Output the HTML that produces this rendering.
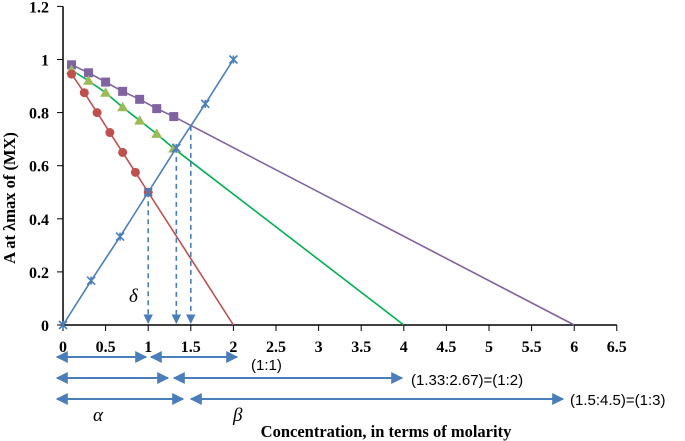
<!DOCTYPE html>
<html><head><meta charset="utf-8"><style>
body{margin:0;background:#fff}
svg{display:block;font-family:"Liberation Serif",serif}
</style></head><body>
<svg id="c" width="685" height="441" viewBox="0 0 685 441">
<defs>
<marker id="ah" viewBox="0 0 10 10" refX="9" refY="5" markerWidth="6" markerHeight="6" orient="auto-start-reverse"><path d="M0,0L10,5L0,10z" fill="#4a7ebb"/></marker>
</defs>
<g id="plot"></g>
</svg>
<script>
const xTicks=[0,0.5,1,1.5,2,2.5,3,3.5,4,4.5,5,5.5,6,6.5];
const yTicks=[0,0.2,0.4,0.6,0.8,1,1.2];
const redX=[0.1,0.25,0.4,0.55,0.7,0.85,1.0];
const redY=[0.945,0.875,0.8,0.725,0.65,0.575,0.5];
const redEnd=[2,0];
const greenX=[0.1,0.3,0.5,0.7,0.9,1.1,1.3];
const greenY=[0.96,0.92,0.875,0.82,0.77,0.72,0.665];
const greenEnd=[4,0];
const purpleX=[0.1,0.3,0.5,0.7,0.9,1.1,1.3];
const purpleY=[0.98,0.95,0.915,0.88,0.85,0.815,0.785];
const purpleEnd=[6,0];
const blueX=[0,0.33,0.67,1,1.33,1.67,2];
const blueY=[0,0.167,0.333,0.5,0.667,0.833,1];
const dropX=[1,1.33,1.5];
const dropY=[0.5,0.667,0.75];
const NS="http://www.w3.org/2000/svg";
const X=v=>63+v*85.2, Y=v=>325-v*265.5;
const g=document.getElementById('plot');
function el(t,a,p){const e=document.createElementNS(NS,t);for(const k in a)e.setAttribute(k,a[k]);(p||g).appendChild(e);return e;}
let ax=el('line',{x1:63,y1:Y(1.2),x2:63,y2:325,stroke:'#000','stroke-width':1.5});


ax=el('line',{x1:63,y1:325,x2:X(6.5),y2:325,stroke:'#000','stroke-width':1.5});


yTicks.forEach(v=>{el('line',{x1:57,x2:63,y1:Y(v),y2:Y(v),stroke:'#000'});
 const t=el('text',{x:49,y:Y(v)+6,'text-anchor':'end','font-size':16,'font-weight':'bold'});t.textContent=v;
 
 });
xTicks.forEach(v=>{el('line',{x1:X(v),x2:X(v),y1:325,y2:331,stroke:'#000'});
 const t=el('text',{x:X(v),y:352,'text-anchor':'middle','font-size':16,'font-weight':'bold'});t.textContent=v;
 
 });
function series(xs,ys,end,col,mk,name){
 const pts=xs.map((x,i)=>X(x)+','+Y(ys[i]));
 if(end)pts.push(X(end[0])+','+Y(end[1]));
 const l=el('polyline',{points:pts.join(' '),fill:'none',stroke:col,'stroke-width':1.6});
 
 
 xs.forEach((x,i)=>{const cx=X(x),cy=Y(ys[i]);let m;
  if(mk=='c')m=el('circle',{cx,cy,r:4.5,fill:'#c0504d'});
  else if(mk=='t')m=el('path',{d:`M${cx},${cy-5.5}L${cx+5.5},${cy+4}L${cx-5.5},${cy+4}z`,fill:'#9bbb59'});
  else if(mk=='s')m=el('rect',{x:cx-4.5,y:cy-4.5,width:9,height:9,fill:'#8064a2'});
  else m=el('path',{d:`M${cx-4},${cy-4}L${cx+4},${cy+4}M${cx-4},${cy+4}L${cx+4},${cy-4}M${cx},${cy-4}L${cx},${cy+4}`,stroke:'#4a7ebb','stroke-width':1.6});
  
  });
}
series(purpleX,purpleY,purpleEnd,'#8064a2','s','purple-series');
series(greenX,greenY,greenEnd,'#00b050','t','green-series');
series(redX,redY,redEnd,'#c0504d','c','red-series');
series(blueX,blueY,null,'#4a7ebb','x','blue-series');
dropX.forEach((x,i)=>{const d=el('line',{x1:X(x),y1:Y(dropY[i]),x2:X(x),y2:323,stroke:'#4a7ebb','stroke-width':1.6,'stroke-dasharray':'5,4','marker-end':'url(#ah)'});
 
 });
function arr(x1,x2,y,name){const a=el('line',{x1,y1:y,x2,y2:y,stroke:'#4a7ebb','stroke-width':2,'marker-start':'url(#ah)','marker-end':'url(#ah)'});
 
 }
arr(57,146,357,'ratio-arrow');arr(151,237,357,'ratio-arrow');
arr(57,168,378,'ratio-arrow');arr(174,402,378,'ratio-arrow');
arr(57,183,399,'ratio-arrow');arr(191,563,399,'ratio-arrow');
function txt(x,y,s,attrs,name){const t=el('text',Object.assign({x,y},attrs));t.textContent=s;
 
 }
const sans={'font-family':'Liberation Sans, sans-serif','font-size':15};
txt(251,370,'(1:1)',sans,'ratio-label-1-1');
txt(411,385,'(1.33:2.67)=(1:2)',sans,'ratio-label-1-2');
txt(570,405,'(1.5:4.5)=(1:3)',sans,'ratio-label-1-3');
txt(93,421,'α',{'font-size':19,'font-style':'italic'},'alpha-label');
txt(233,421,'β',{'font-size':19,'font-style':'italic'},'beta-label');
txt(129,302,'δ',{'font-size':19,'font-style':'italic'},'delta-label');
txt(386,437,'Concentration, in terms of molarity',{'font-size':16.5,'font-weight':'bold','text-anchor':'middle'},'x-axis-title');
txt(0,0,'A at λmax of (MX)',{'font-size':16.5,'font-weight':'bold','text-anchor':'middle',transform:'translate(15,198) rotate(-90)'},'y-axis-title');
</script>
</body></html>
